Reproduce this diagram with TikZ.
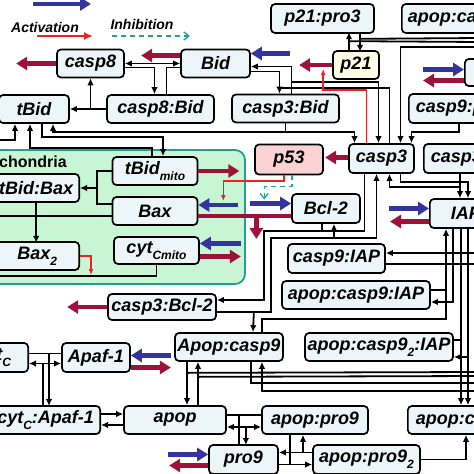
\documentclass[tikz,border=0pt]{standalone}
\usepackage{fontspec}
\setsansfont{Liberation Sans}
\usetikzlibrary{arrows.meta,calc}
\definecolor{boxfill}{RGB}{236,245,247}
\definecolor{mitofill}{RGB}{200,246,212}
\definecolor{mitoline}{RGB}{30,160,150}
\definecolor{prodblue}{RGB}{52,52,160}
\definecolor{degred}{RGB}{158,18,58}
\definecolor{actred}{RGB}{238,32,32}
\definecolor{inhteal}{RGB}{36,160,160}
\definecolor{p21fill}{RGB}{253,251,228}
\definecolor{p53fill}{RGB}{250,210,210}
\newcommand\sbs[1]{\raisebox{-0.35em}{\fontsize{12}{12}\selectfont #1}}

\tikzset{
  spec/.style={draw, line width=1.7pt, rounded corners=4pt, fill=boxfill, inner sep=0pt,
    minimum height=28pt, font=\sffamily\bfseries\itshape\fontsize{18}{18}\selectfont},
  legtxt/.style={font=\sffamily\bfseries\itshape\fontsize{14}{14}\selectfont},
  prod/.style={draw=prodblue, line width=4.5pt, -{Triangle[length=11pt,width=13pt]}},
  deg/.style={draw=degred, line width=4.5pt, -{Triangle[length=11pt,width=13pt]}},
  degline/.style={draw=degred, line width=4.5pt},
  act/.style={draw=actred, line width=1.4pt, -{Latex[length=6pt,width=5pt]}},
  inh/.style={draw=inhteal, line width=1.3pt, dash pattern=on 5pt off 4pt,
    -{Straight Barb[length=5pt,width=8pt]}},
}

\begin{document}
\begin{tikzpicture}[x=1pt, y=-1pt, line width=1.8pt, >={Latex[length=7pt,width=6.5pt]}]
\useasboundingbox (0,0) rectangle (474,474);
\clip (0,0) rectangle (474,474);

% mitochondria
\filldraw[fill=mitofill, draw=mitoline, line width=1.8pt, rounded corners=10pt] (-20,150) rectangle (245,284);
\node[anchor=east, font=\sffamily\bfseries\fontsize{16}{16}\selectfont] (mitolbl) at (71,162) {Mitochondria};

% legend
\node[legtxt] (legact) at (45,27) {Activation};
\node[legtxt] (leginh) at (142,24) {Inhibition};
\coordinate (legA1) at (37,36); \coordinate (legA2) at (93,36);
\coordinate (legI1) at (112,36); \coordinate (legI2) at (190,36);
\coordinate (legB1) at (33,4); \coordinate (legB2) at (91,4);
\draw[act, line width=1.8pt, -{Latex[length=9pt,width=8pt]}] (legA1) -- (legA2);
\draw[inh, line width=1.4pt] (legI1) -- (legI2);
\draw[prod] (legB1) -- (legB2);

% species
\node[spec, minimum width=67pt] (casp8) at (90.5,63.5) {casp8};
\node[spec, minimum width=69pt] (Bid) at (215.5,63.5) {Bid};
\node[spec, minimum width=70pt] (tBid) at (34,109) {tBid};
\node[spec, minimum width=107pt] (casp8Bid) at (160.5,109) {casp8:Bid};
\node[spec, minimum width=107pt] (casp3Bid) at (285.5,108.5) {casp3:Bid};
\node[spec, minimum width=103pt, minimum height=29pt] (p21pro3) at (322.5,18.5) {p21:pro3};
\node[spec, anchor=west, inner xsep=6pt, minimum height=29pt] (apopT) at (401,18.5) {apop:casp9:pro3};
\node[spec, fill=p21fill, minimum width=46pt] (p21) at (356,65) {p21};
\node[spec, anchor=west, inner xsep=10pt, minimum height=27pt] (pro3) at (464,72.5) {pro3};
\node[spec, anchor=west, inner xsep=7pt, minimum height=29pt] (casp9p) at (408,108.5) {casp9:pro3};
\node[spec, fill=p53fill, minimum width=68pt, minimum height=30pt] (p53) at (289,159.5) {p53};
\node[spec, minimum width=65pt, minimum height=29pt] (casp3) at (381.5,158.5) {casp3};
\node[spec, anchor=west, inner xsep=7pt, minimum height=29pt] (casp3IAP) at (423,158.5) {casp3:IAP};
\node[spec, anchor=west, inner xsep=21pt, minimum height=29pt] (IAP) at (429,213.5) {IAP};
\node[spec, minimum width=68pt, minimum height=29pt] (Bcl2) at (326,208.5) {Bcl-2};
\node[spec, minimum width=97pt, minimum height=29pt] (casp9IAP) at (336.5,258.5) {casp9:IAP};
\node[spec, minimum width=148pt] (apopc9IAP) at (356,295) {apop:casp9:IAP};
\node[spec, minimum width=108pt, minimum height=26pt] (casp3Bcl) at (162,307) {casp3:Bcl-2};
\node[spec, minimum width=108pt] (Apopcasp9) at (229,347) {Apop:casp9};
\node[spec, minimum width=148pt] (apopc92IAP) at (379,347) {apop:casp9\sbs{2}:IAP};
\node[spec, minimum width=68pt, minimum height=29pt] (Apaf) at (96,357.5) {Apaf-1};
\node[spec, anchor=east, minimum width=69pt, minimum height=29pt] (cytC) at (29,357.5) {cyt\sbs{C}};
\node[spec, anchor=east, minimum width=109pt] (cytCApaf) at (101,420) {cyt\sbs{C}:Apaf-1};
\node[spec, minimum width=102pt] (apop) at (175,420) {apop};
\node[spec, minimum width=106pt] (apoppro9) at (315,420) {apop:pro9};
\node[spec, anchor=west, inner xsep=8pt] (apopR) at (407,420) {apop:casp3};
\node[spec, minimum width=69pt, minimum height=29pt] (pro9) at (243.5,459.5) {pro9};
\node[spec, minimum width=107pt, minimum height=29pt] (apoppro92) at (366.5,459.5) {apop:pro9\sbs{2}};
% inside mitochondria
\node[spec, minimum width=85pt] (tBidm) at (155,171) {tBid\sbs{mito}};
\node[spec, anchor=east, minimum width=86pt] (tBidBax) at (80,188) {tBid:Bax};
\node[spec, minimum width=85pt] (Bax) at (155,211) {Bax};
\node[spec, anchor=east, minimum width=84pt] (Bax2) at (80,256) {Bax\sbs{2}};
\node[spec, minimum width=85pt, minimum height=27pt] (cytCm) at (156.5,250.5) {cyt\sbs{Cmito}};

% off-picture ends
\coordinate (offL1) at (-6,140);
\coordinate (offL2) at (-10,276);
\coordinate (offL3) at (-10,216);
\coordinate (offR1) at (480,38);
\coordinate (offR2) at (480,42);
\coordinate (offR3) at (480,47);
\coordinate (offR4) at (480,253);
\coordinate (offR5) at (480,264);
\coordinate (offR6) at (480,372);
\coordinate (offR7) at (480,376);
\coordinate (offR8) at (480,383);
\coordinate (offR9) at (480,391);

% casp8 + Bid
\draw[<->] (casp8.east) -- (Bid.west);
\draw[->] ($(casp8.east)+(0,4)$) -| ($(casp8Bid.north)+(-6,0)$);
\draw ($(casp8Bid.north)+(6,0)$) |- ($(Bid.west)+(0,4)$);
\draw[->] (casp8Bid.west) -- (tBid.east);
\draw[->] (casp8Bid.west -| casp8.south) -- (casp8.south);
\draw[->] (offL1) -| ($(tBid.south)+(-19,0)$);

% tBid transport
\draw[->] ($(tBid.south)+(8,0)$) |- ($(tBidm.north)+(8,-19)$) -- ($(tBidm.north)+(8,0)$);
\draw[->] ($(tBidm.north)+(-3,0)$) |- ($(tBid.south)+(-4,24)$) -- ($(tBid.south)+(-4,0)$);

% casp3 + Bid
\coordinate (c3bj) at ($(casp3Bid.south)+(0,9)$);
\draw (casp3Bid.south) -- (c3bj);
\draw[->] (c3bj) -| ($(tBid.south)+(19,0)$);
\draw[->] (c3bj) -| ($(casp3.north)+(-27,0)$);
\draw[->] ($(casp3Bid.north)+(6,0)$) |- ($(Bid.east)+(0,3)$);
\draw[->] ($(Bid.east)+(0,8)$) -| ($(casp3Bid.north)+(-6,0)$);
\draw[->] ($(casp3Bid.north)+(6,-12)$) -| ($(casp3.north)+(-3,0)$);
\draw ($(casp3Bid.north)+(-6,-6)$) -| ($(casp3.north)+(8,0)$);

% p21 + pro3
\draw[->] ($(p21.north)+(-7,0)$) -- ++(0,-18);
\draw[->] ($(p21pro3.south)+(37.5,0)$) -- ++(0,18);
\draw (offR1) -- ($(p21pro3.south)+(37.5,5)$);
\draw (offR2) -- ($(p21.north)+(-7,-9)$);
\draw[->] (offR3) -| ($(casp3.north)+(19,0)$);
\draw[->] ($(casp9p.south west)+(51,0)$) |- ($(casp3.north)+(30,-11)$) -- ($(casp3.north)+(30,0)$);
\draw[act] ($(casp3.north)+(-15,0)$) |- ($(p21.west)+(-9,25)$) -- ($(p21.west)+(-9,4)$);

% casp3 + Bcl-2
\draw[->] ($(casp3.south)+(-17,0)$) |- ($(casp3Bcl.east)+(47,-76)$) |- ($(casp3Bcl.east)+(0,-7)$);
\draw ($(Bcl2.south)+(-4,0)$) -- ++(0,8);
\draw[->] ($(casp3Bcl.east)+(0,5)$) -| ($(casp3Bcl.east)+(54,-69)$) -| ($(casp3.south)+(-5,0)$);
\draw[->] ($(Bcl2.south)+(8,15)$) -- ($(Bcl2.south)+(8,0)$);
\draw[->] ($(casp3Bcl.east)+(37,5)$) -- ($(Apopcasp9.north)+(24,0)$);

% casp3 + IAP
\draw[->] ($(casp3IAP.south west)+(37,0)$) -- ($(IAP.north west)+(31,0)$);
\draw[->] ($(IAP.north west)+(31,-11)$) -| ($(casp3.south)+(8,0)$);
\draw[->] ($(casp3.south)+(19,0)$) |- ($(IAP.north west)+(39,-16)$) -- ($(IAP.north west)+(39,0)$);

% IAP complexes
\draw[->] ($(apopc9IAP.east)+(0,-5)$) -| ($(IAP.south west)+(17,0)$);
\draw ($(Apopcasp9.north)+(33,0)$) |- ($(IAP.south west)+(17,90)$) -- ($(IAP.south west)+(17,62)$);
\draw[->] ($(IAP.south west)+(24,0)$) |- ($(apopc9IAP.east)+(0,7)$);
\draw[->] (offR4) -- ($(casp9IAP.east)+(0,-5.5)$);
\draw ($(casp9IAP.east)+(0,5.5)$) -- (offR5);
\draw[->] ($(IAP.south west)+(32,0)$) -- ($(apopR.north west)+(54,0)$);
\draw[->] ($(IAP.south west)+(39,0)$) -- ($(apopR.north west)+(61,0)$);
\draw ($(apopc92IAP.east)+(0,-7)$) -- ++(8,0);
\draw[->] ($(apopc92IAP.east)+(15,10)$) -- ($(apopc92IAP.east)+(0,10)$);

% apop + casp9
\draw[->] ($(Apopcasp9.south)+(-42,0)$) -- ($(apop.north)+(12,0)$);
\draw[->] ($(apop.north)+(23,0)$) -- ($(Apopcasp9.south)+(-31,0)$);
\draw (offR6) -- ($(Apopcasp9.south)+(-42,11)$);
\draw (offR7) -- ($(Apopcasp9.south)+(-31,15)$);
\draw ($(Apopcasp9.south)+(22,0)$) |- (offR8);
\draw[->] (offR9) -| ($(Apopcasp9.south)+(33,0)$);

% cytC + Apaf-1
\draw ($(cytC.east)+(0,-4)$) -- ($(Apaf.west)+(0,-4)$);
\draw[->] ($(cytC.east)+(20,-4)$) -- ++(0,52.5);
\draw[<->] ($(cytC.east)+(0,6)$) -- ($(Apaf.west)+(0,6)$);
\draw ($(cytC.east)+(14,6)$) -- ++(0,42.5);
\draw[->] ($(cytCApaf.east)+(0,-6)$) -- ($(apop.west)+(0,-6)$);
\draw[->] ($(apop.west)+(0,5)$) -- ($(cytCApaf.east)+(0,5)$);

% apop + pro9
\draw ($(apop.east)+(0,-5)$) -- ($(apoppro9.west)+(0,-5)$);
\draw[<->] ($(apop.east)+(0,7)$) -- ($(apoppro9.west)+(0,7)$);
\draw ($(apop.east)+(12,-5)$) -- ++(0,30);
\draw[->] ($(apop.east)+(19,7)$) -- ++(0,18);
\draw[->] ($(apoppro92.west)+(0,-7)$) -- ($(pro9.east)+(0,-7)$);
\draw[->] ($(pro9.east)+(0,5)$) -- ($(apoppro92.west)+(0,5)$);
\draw ($(apoppro9.south)+(-25,0)$) -- ++(0,30.5);
\draw[->] ($(apoppro9.south)+(-12,18.5)$) -- ($(apoppro9.south)+(-12,0)$);
\draw[->] (apoppro92.east) -| ($(apopR.south west)+(59,0)$);

% inside mitochondria
\draw (tBidm.west) -| ($(Bax.west)+(-15,-7)$) -- ($(Bax.west)+(0,-7)$);
\draw[->] ($(tBidBax.east)+(17,0)$) -- (tBidBax.east);
\draw[->] (tBidBax.south) -- ++(0,40);
\draw ($(Bax.west)+(0,5)$) -- (offL3);
\draw (cytCm.south) |- (offL2);
\draw[act] (Bax2.east) -| ($(Bax2.east)+(11,19)$);

% production / degradation
\draw[deg] (casp8.west) -- ++(-40,0);
\draw[deg] ($(Bid.west)+(0,-8)$) -- ++(-39,0);
\draw[prod] ($(Bid.east)+(39,-10)$) -- ($(Bid.east)+(0,-10)$);
\draw[deg] (p21.west) -- ++(-33,0);
\draw[prod] ($(pro3.west)+(-41,-3)$) -- ($(pro3.west)+(0,-3)$);
\draw[deg] ($(pro3.west)+(0,8)$) -- ++(-41,0);
\draw[deg] ($(casp3.west)+(0,-1)$) -- ++(-23,0);
\draw[prod] ($(IAP.west)+(-40,-5)$) -- ($(IAP.west)+(0,-5)$);
\draw[deg] ($(IAP.west)+(0,8)$) -- ++(-39,0);
\draw[prod] ($(Bcl2.west)+(-41,-5)$) -- ($(Bcl2.west)+(0,-5)$);
\draw[prod] ($(Bax.east)+(40,-6)$) -- ($(Bax.east)+(0,-6)$);
\draw[degline] ($(Bax.east)+(0,5)$) -- ($(Bcl2.west)+(0,7.5)$);
\draw[deg] ($(Bax.east)+(58,5)$) -- ++(0,23);
\draw[deg] (tBidm.east) -- ++(41,0);
\draw[prod] ($(cytCm.east)+(41,-7)$) -- ($(cytCm.east)+(0,-7)$);
\draw[deg] ($(cytCm.east)+(0,6)$) -- ++(41,0);
\draw[prod] ($(Apaf.east)+(40,-2)$) -- ($(Apaf.east)+(0,-2)$);
\draw[deg] ($(Apaf.east)+(0,10)$) -- ++(40,0);
\draw[deg] (casp3Bcl.west) -- ++(-40,0);
\draw[prod] ($(pro9.west)+(-40,-5)$) -- ($(pro9.west)+(0,-5)$);
\draw[deg] ($(pro9.west)+(0,6)$) -- ++(-39,0);

% p53 effects
\draw[act] ($(p53.south)+(-5,0)$) |- ($(Bax.east)+(25,-30)$) -- ($(Bax.east)+(25,-10)$);
\draw[inh] ($(p53.south)+(3,0)$) |- ($(Bcl2.west)+(-27,-22)$) -- ($(Bcl2.west)+(-27,-9)$);
\end{tikzpicture}
\end{document}
